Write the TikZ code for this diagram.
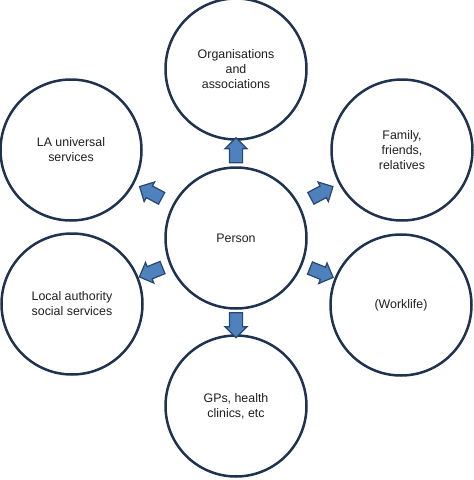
\documentclass[tikz,border=0pt]{standalone}
\usepackage{fontspec}
\setmainfont{Liberation Sans}
\usepackage{tikz}
\usetikzlibrary{shapes.arrows}
\usetikzlibrary{positioning}
\definecolor{RingBlue}{RGB}{31,50,79}
\definecolor{ArrowBlue}{RGB}{79,129,189}
\definecolor{ArrowEdge}{RGB}{40,70,115}
\definecolor{TextGray}{RGB}{30,30,30}

\begin{document}
\begin{tikzpicture}[x=1pt, y=-1pt,
  ring/.style={circle, draw=RingBlue, line width=2.5pt, minimum size=141pt,
    inner sep=0pt, align=center, text=TextGray,
    font=\fontsize{12.4}{15}\selectfont},
  blockarrow/.style={single arrow, draw=ArrowEdge, fill=ArrowBlue,
    line width=1.2pt, inner sep=6pt, single arrow head extend=4.5pt,
    minimum height=25pt, sloped, allow upside down, pos=0.5}]

% canvas
\useasboundingbox (0,0) rectangle (474,480);

% The circles
\node[ring] (person)   at (236,238) {Person};
\node[ring] (orgs)     at (236,69)  {Organisations\\and\\associations};
\node[ring] (gps)      at (236,406) {GPs, health\\clinics, etc};
\node[ring] (launi)    at (71,150)  {LA universal\\services};
\node[ring] (lasocial) at (72,304)  {Local authority\\social services};
\node[ring] (family)   at (402,150) {Family,\\friends,\\relatives};
\node[ring] (worklife) at (401,305) {(Worklife)};

% block arrows out of person
\path (person) -- node[blockarrow] (arrorgs) {} (orgs);
\path (person) -- node[blockarrow] (arrgps) {} (gps);
\path (person) -- node[blockarrow] (arrlauni) {} (launi);
\path (person) -- node[blockarrow] (arrlasocial) {} (lasocial);
\path (person) -- node[blockarrow] (arrfamily) {} (family);
\path (person) -- node[blockarrow] (arrworklife) {} (worklife);

\end{tikzpicture}
\end{document}
